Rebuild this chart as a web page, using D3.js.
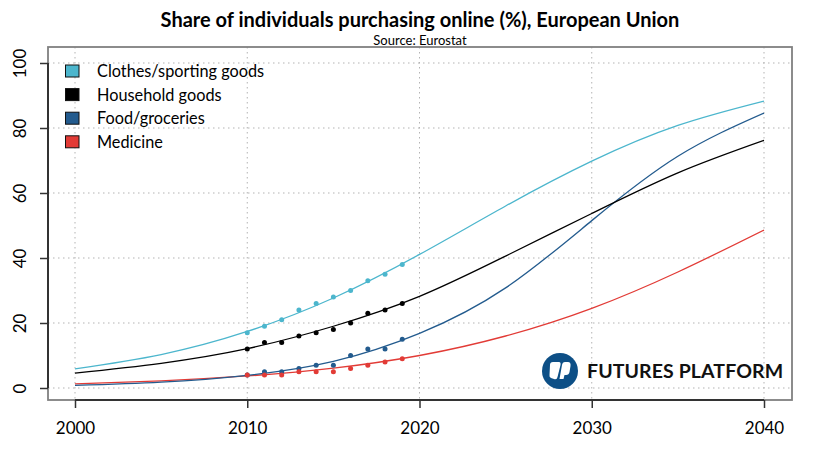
<!DOCTYPE html>
<html>
<head>
<meta charset="utf-8">
<script src="https://cdn.jsdelivr.net/npm/d3@7"></script>
<style>
  body { margin: 0; background: #fff; }
  svg { font-family: Lato, "Noto Sans", sans-serif; }
</style>
</head>
<body>
<div id="chart"></div>
<script>
// observed values (points)
var obsYears = [2010, 2011, 2012, 2013, 2014, 2015, 2016, 2017, 2018, 2019];
var clothesObs = [17, 19, 21, 24, 26, 28, 30, 33, 35, 38];
var householdObs = [12, 14, 14, 16, 17, 18, 20, 23, 24, 26];
var foodObs = [4, 5, 5, 6, 7, 7, 10, 12, 12, 15];
var medicineObs = [4, 4, 4, 5, 5, 5, 6, 7, 8, 9];

// fitted curves, every 5 years
var fitYears = [2000, 2005, 2010, 2015, 2020, 2025, 2030, 2035, 2040];
var clothesFit = [5.9, 10.3, 17.4, 27.7, 41.1, 56, 69.8, 80.8, 88.3];
var householdFit = [4.6, 7.6, 12.1, 19, 28.2, 40.6, 53.7, 66.2, 76.2];
var foodFit = [0.8, 1.8, 3.9, 8.2, 16.8, 30.8, 51.5, 71.3, 84.6];
var medicineFit = [1.3, 2.2, 3.7, 6.1, 10, 16.0, 24.5, 35.7, 48.6];

var seriesNames = ["Clothes/sporting goods", "Household goods", "Food/groceries", "Medicine"];
var seriesColors = ["#4cb6cd", "#000000", "#235b8e", "#e23b36"];
var xTicks = [2000, 2010, 2020, 2030, 2040];
var yTicks = [0, 20, 40, 60, 80, 100];

var width = 840, height = 449;
var box = {left: 48, right: 792, top: 47, bottom: 400};

var x = d3.scaleLinear().domain([2000, 2040]).range([75, 764]);
var y = d3.scaleLinear().domain([0, 100]).range([388, 63]);

var svg = d3.select("#chart").append("svg")
    .attr("width", width)
    .attr("height", height);

// title
svg.append("text")
    .attr("x", 420).attr("y", 27)
    .attr("text-anchor", "middle")
    .style("font-size", "20px")
    .style("font-weight", "bold")
    .text("Share of individuals purchasing online (%), European Union");
svg.append("text")
    .attr("x", 420).attr("y", 45)
    .attr("text-anchor", "middle")
    .style("font-size", "13px")
    .text("Source: Eurostat");

// grid
var grid = svg.append("g")
    .attr("stroke", "#b3b3b3")
    .attr("stroke-width", 1)
    .attr("stroke-dasharray", "1.5,3.5");
grid.selectAll(".gx").data(xTicks).enter().append("line")
    .attr("x1", function (d) { return x(d); })
    .attr("x2", function (d) { return x(d); })
    .attr("y1", box.top).attr("y2", box.bottom);
grid.selectAll(".gy").data(yTicks).enter().append("line")
    .attr("y1", function (d) { return y(d); })
    .attr("y2", function (d) { return y(d); })
    .attr("x1", box.left).attr("x2", box.right);

// logo
var logo = svg.append("g").attr("transform", "translate(560,371)");
logo.append("circle").attr("r", 18).attr("fill", "#0d4f86");
logo.append("path")
    .attr("fill", "#fff")
    .attr("d", "M-10,-6 Q-10,-9 -7,-9 L-1,-9 Q1,-9 0.5,-6 L-2.5,6 Q-3,9 -6,8 L-9,7 Q-11,6 -10.5,4 Z");
logo.append("path")
    .attr("fill", "#fff")
    .attr("d", "M2,-6 Q2.5,-9 5,-9 L8,-9 Q11,-9 10.5,-5 L9.5,1 Q9,4 6,4 L4.5,4 L3.5,8 L-0.5,8 Z");
logo.append("circle").attr("cx", 6).attr("cy", 6.5).attr("r", 1.6).attr("fill", "#0d4f86");
svg.append("text")
    .attr("x", 587).attr("y", 378)
    .style("font-size", "19.5px")
    .style("font-weight", "bold")
    .style("letter-spacing", "0.1px")
    .attr("fill", "#111")
    .text("FUTURES PLATFORM");

// curves
var line = d3.line()
    .x(function (d) { return x(d[0]); })
    .y(function (d) { return y(d[1]); })
    .curve(d3.curveNatural);

var fits = [clothesFit, householdFit, foodFit, medicineFit];
var obs = [clothesObs, householdObs, foodObs, medicineObs];

// draw bottom series first so clothes stays on top like in the picture
[3, 2, 1, 0].forEach(function (i) {
    svg.append("path")
        .datum(fitYears.map(function (yr, j) { return [yr, fits[i][j]]; }))
        .attr("fill", "none")
        .attr("stroke", seriesColors[i])
        .attr("stroke-width", 1.3)
        .attr("d", line);
});
[2, 3, 1, 0].forEach(function (i) {
    svg.append("g").selectAll("circle")
        .data(obsYears.map(function (yr, j) { return [yr, obs[i][j]]; }))
        .enter().append("circle")
        .attr("cx", function (d) { return x(d[0]); })
        .attr("cy", function (d) { return y(d[1]); })
        .attr("r", 2.5)
        .attr("fill", seriesColors[i]);
});

// box
svg.append("rect")
    .attr("x", box.left).attr("y", box.top)
    .attr("width", box.right - box.left)
    .attr("height", box.bottom - box.top)
    .attr("fill", "none")
    .attr("stroke", "#808080")
    .attr("stroke-width", 1.8);

// axes
var xAxis = svg.append("g")
    .attr("transform", "translate(0," + box.bottom + ")")
    .call(d3.axisBottom(x).tickValues(xTicks).tickFormat(d3.format("d"))
        .tickSize(8).tickSizeOuter(0).tickPadding(14));
xAxis.select(".domain").attr("d", "M" + x(2000) + ",0H" + x(2040))
    .attr("stroke", "#333").attr("stroke-width", 2);
xAxis.selectAll(".tick line").attr("stroke", "#333").attr("stroke-width", 1.5);
xAxis.selectAll(".tick text")
    .style("font-family", "Lato, sans-serif")
    .style("font-size", "17px")
    .attr("fill", "#000");

var yAxis = svg.append("g")
    .attr("transform", "translate(" + box.left + ",0)")
    .call(d3.axisLeft(y).tickValues(yTicks).tickSize(8).tickSizeOuter(0));
yAxis.select(".domain").attr("d", "M0," + y(0) + "V" + y(100))
    .attr("stroke", "#333").attr("stroke-width", 2);
yAxis.selectAll(".tick line").attr("stroke", "#333").attr("stroke-width", 1.5);
yAxis.selectAll(".tick text")
    .attr("x", null).attr("dy", null)
    .attr("text-anchor", "middle")
    .attr("transform", "translate(-22,0) rotate(-90)")
    .style("font-family", "Lato, sans-serif")
    .style("font-size", "17px")
    .attr("fill", "#000");

// legend
var legend = svg.append("g").attr("transform", "translate(65,71)");
seriesNames.forEach(function (name, i) {
    var row = legend.append("g").attr("transform", "translate(0," + (i * 23.6) + ")");
    row.append("rect")
        .attr("x", 0.5).attr("y", -6)
        .attr("width", 13.5).attr("height", 12)
        .attr("fill", seriesColors[i])
        .attr("stroke", "#111").attr("stroke-width", 1);
    row.append("text")
        .attr("x", 32).attr("y", 6)
        .style("font-size", "16.3px")
        .text(name);
});
</script>
</body>
</html>
